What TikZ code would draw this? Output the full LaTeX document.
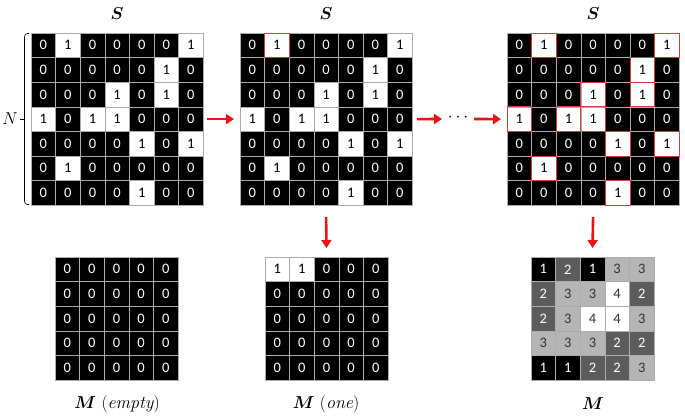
\documentclass[tikz,border=0pt]{standalone}
\usepackage{fontspec}
\usepackage{bm}
\usetikzlibrary{arrows.meta}
\newfontfamily\cellfont{Carlito}
\definecolor{mgA}{gray}{0}
\definecolor{mgB}{gray}{0.36}
\definecolor{mgC}{gray}{0.71}
\definecolor{mgD}{gray}{1}
\definecolor{arrred}{RGB}{235,20,20}
\definecolor{hlred}{RGB}{215,60,60}
\tikzset{
  cell/.style={minimum size=24.6pt,inner sep=0pt,outer sep=0pt,draw=gray!65,line width=0.5pt,
    font=\cellfont\fontsize{14.5}{15}\selectfont},
  cell0/.style={fill=black,text=white},
  cell1/.style={fill=white,text=black},
  mcell1/.style={fill=mgA,text=white},
  mcell2/.style={fill=mgB,text=white},
  mcell3/.style={fill=mgC,text=black!80},
  mcell4/.style={fill=mgD,text=black!80},
  hl0/.style={},
  hl1/.style={draw=hlred,line width=0.8pt},
  redarrow/.style={draw=arrred,line width=2.6pt,-{Triangle[length=8pt,width=10pt]}},
  title/.style={font=\fontsize{18}{20}\selectfont},
}
\def\Smat{{0,1,0,0,0,0,1},{0,0,0,0,0,1,0},{0,0,0,1,0,1,0},{1,0,1,1,0,0,0},{0,0,0,0,1,0,1},{0,1,0,0,0,0,0},{0,0,0,0,1,0,0}}
\newcommand\drawS[2]{% prefix, x0
  \foreach \row [count=\r] in \Smat {
    \foreach \v [count=\c] in \row {
      \node[cell,cell\v] (#1-\r-\c) at ({#2+(\c-0.5)*24.6},{33+(\r-0.5)*24.6}) {\v};
    }
  }
}
\newcommand\drawM[3]{% prefix, x0, matrix
  \foreach \row [count=\r] in {#3} {
    \foreach \v [count=\c] in \row {
      \node[cell,#1style\v] (#1-\r-\c) at ({#2+(\c-0.5)*24.6},{257+(\r-0.5)*24.6}) {\v};
    }
  }
}
\tikzset{
  Estyle0/.style={cell0},
  Ostyle0/.style={cell0}, Ostyle1/.style={cell1},
  Fstyle1/.style={mcell1}, Fstyle2/.style={mcell2}, Fstyle3/.style={mcell3}, Fstyle4/.style={mcell4},
}
\begin{document}
\begin{tikzpicture}[x=1pt,y=-1pt]
\useasboundingbox[fill=white] (0,0) rectangle (685,417);
% S matrices
\drawS{L}{31}
\drawS{C}{240}
\drawS{R}{507}
% highlights
\path[hl1] (C-1-2.south west) rectangle (C-1-2.north east);
\foreach \row [count=\r] in \Smat {
  \foreach \v [count=\c] in \row {
    \path[hl\v] (R-\r-\c.south west) rectangle (R-\r-\c.north east);
  }
}
% M matrices
\drawM{E}{55}{{0,0,0,0,0},{0,0,0,0,0},{0,0,0,0,0},{0,0,0,0,0},{0,0,0,0,0}}
\drawM{O}{265}{{1,1,0,0,0},{0,0,0,0,0},{0,0,0,0,0},{0,0,0,0,0},{0,0,0,0,0}}
\drawM{F}{531}{{1,2,1,3,3},{2,3,3,4,2},{2,3,4,4,3},{3,3,3,2,2},{1,1,2,2,3}}
% titles
\node[title] (tL) at (117,14) {$\bm{S}$};
\node[title] (tC) at (326,14) {$\bm{S}$};
\node[title] (tR) at (593,14) {$\bm{S}$};
\node[title] (bE) at (117,404) {$\bm{M}\ (\mathit{empty})$};
\node[title] (bO) at (326,404) {$\bm{M}\ (\mathit{one})$};
\node[title] (bF) at (593,404) {$\bm{M}$};
% bracket and N
\draw[line width=0.6pt,rounded corners=3pt] (29,33.5) -- (24.5,33.5) -- (24.5,204.5) -- (29,204.5);
\coordinate (tick) at (24.5,119);
\node[font=\fontsize{17}{19}\selectfont] (N) at (10,119) {$N$};
\draw[line width=0.6pt] (tick) -- ++(-5,0);
% arrows
\coordinate (dl) at (442,119);
\coordinate (dr) at (474,119);
\node[font=\fontsize{16}{18}\selectfont,anchor=center] (dots) at (458,118) {$\cdots$};
\draw[redarrow] ([xshift=4pt]L-4-7.east) -- ([xshift=-6pt]C-4-1.west);
\draw[redarrow] ([xshift=5pt]C-4-7.east) -- (dl);
\draw[redarrow] (dr) -- ([xshift=-6pt]R-4-1.west);
\draw[redarrow] ([yshift=-12pt]C-7-4.south) -- ([yshift=9pt]O-1-3.north);
\draw[redarrow] ([yshift=-12pt]R-7-4.south) -- ([yshift=9pt]F-1-3.north);
\end{tikzpicture}
\end{document}
